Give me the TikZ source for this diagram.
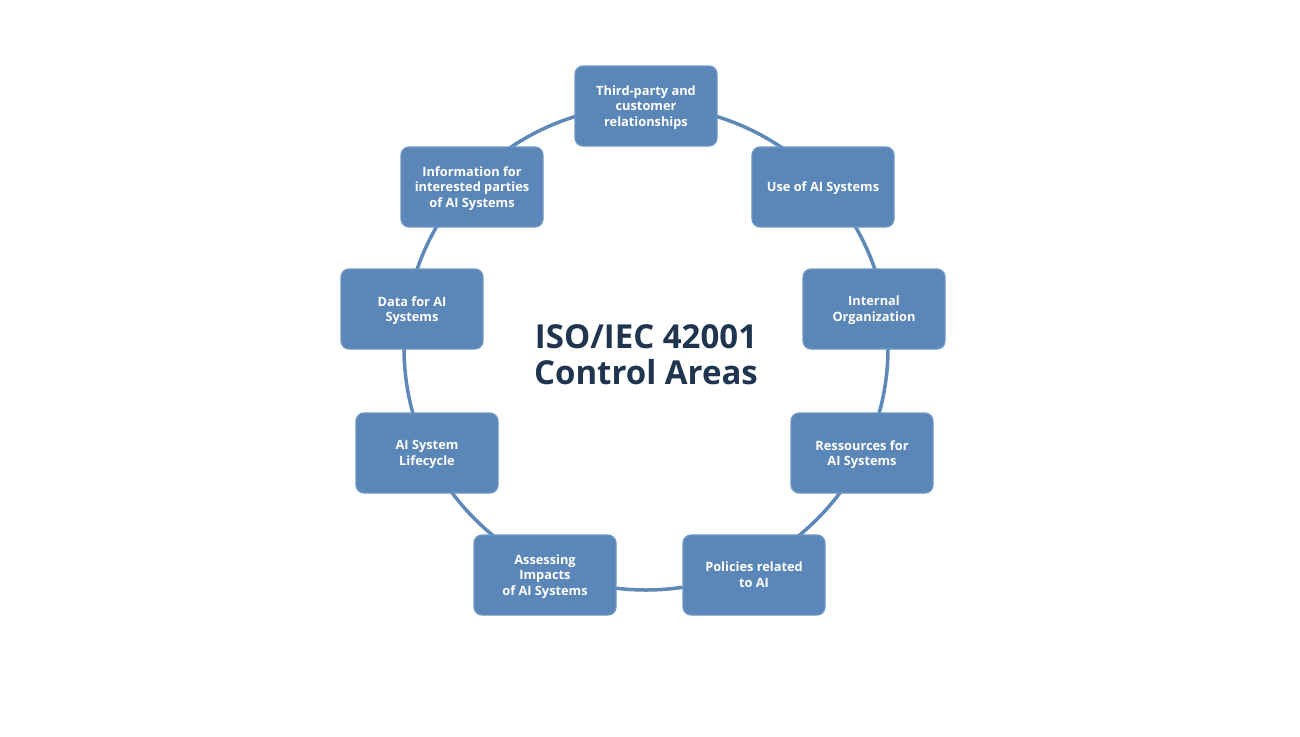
\documentclass[tikz,border=0pt]{standalone}
\usepackage{fontspec}
\setmainfont{Open Sans}
\begin{document}
\begin{tikzpicture}[x=1pt,y=-1pt,
  area/.style={draw=areaborder,line width=1.2pt,fill=areafill,rounded corners=8pt,
    minimum width=142pt,minimum height=80pt,text=white,align=center,
    font=\fontsize{12.8}{15.8}\selectfont\bfseries,inner sep=2pt,text depth=0pt},
  ring/.style={draw=ringcol,line width=3.5pt}]
\definecolor{areafill}{HTML}{5B86B8}
\definecolor{areaborder}{HTML}{6E97C4}
\definecolor{ringcol}{HTML}{5E88B7}
\definecolor{titlecol}{HTML}{1F354F}
\useasboundingbox (0,0) rectangle (1300,736);
\fill[white] (0,0) rectangle (1300,736);
\coordinate (c) at (646,348);
\draw[ring] (c) circle[radius=242pt];
\node[font=\fontsize{33}{36}\selectfont\bfseries,text=titlecol,align=center] (title) at (646,355) {ISO/IEC 42001\\Control Areas};
\node[area] (n1) at (646,106) {Third-party and\\customer\\relationships};
\node[area] (n2) at (823,187) {Use of AI Systems};
\node[area] (n3) at (874,309) {Internal\\Organization};
\node[area] (n4) at (862,453) {Ressources for\\AI Systems};
\node[area] (n5) at (754,575) {Policies related\\to AI};
\node[area] (n6) at (545,575) {Assessing\\Impacts\\of AI Systems};
\node[area] (n7) at (427,453) {AI System\\Lifecycle};
\node[area] (n8) at (412,309) {Data for AI\\Systems};
\node[area] (n9) at (472,187) {Information for\\interested parties\\of AI Systems};
\end{tikzpicture}
\end{document}
